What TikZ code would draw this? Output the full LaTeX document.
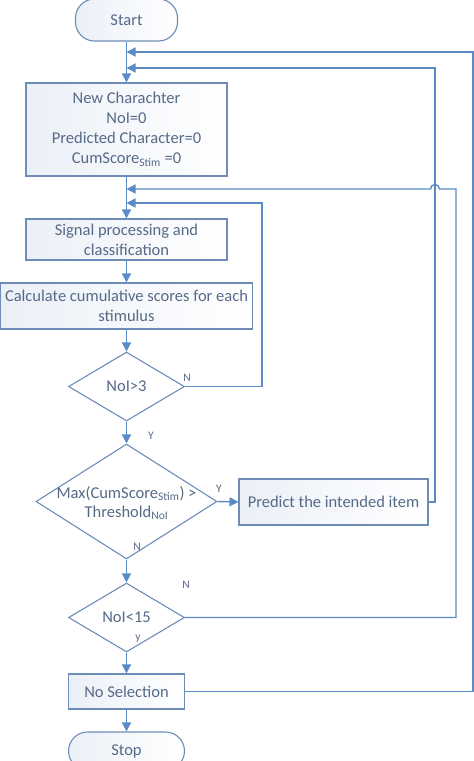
\documentclass[tikz,border=0pt]{standalone}
\usepackage{fontspec}
\setmainfont{Carlito}
\usetikzlibrary{arrows.meta,shapes.geometric}
\definecolor{lnc}{HTML}{5B8BC7}
\definecolor{bdc}{HTML}{6E8DB6}
\definecolor{txc}{HTML}{566A88}
\definecolor{flc}{HTML}{EBF0F7}
\begin{document}
\begin{tikzpicture}[x=1pt,y=-1pt,
  every node/.style={text=txc,font=\fontsize{16.5}{20}\selectfont},
  box/.style={draw=bdc,line width=1.1pt,left color=flc,right color=white,inner sep=0pt,align=center},
  term/.style={box,rounded corners=19pt},
  dia/.style={draw=bdc,line width=1.1pt,diamond,inner sep=0pt,fill=white},
  dtext/.style={align=center,inner sep=0pt},
  lbl/.style={font=\fontsize{11.5}{12}\selectfont,inner sep=0pt},
  conn/.style={draw=lnc,line width=1.4pt},
  arr/.style={conn,-{Triangle[length=9pt,width=9pt]}}]
\useasboundingbox (0,0) rectangle (474,761);

\node[term,minimum width=102,minimum height=42] (start) at (126.5,20) {Start};
\node[box,minimum width=201,minimum height=93] (new) at (126.5,129.5)
  {New Charachter\\NoI=0\\Predicted Character=0\\CumScore\textsubscript{Stim} =0};
\node[box,minimum width=201,minimum height=41] (sig) at (126.5,239.5)
  {Signal processing and\\classification};
\node[box,minimum width=252,minimum height=46] (calc) at (126.5,306)
  {Calculate cumulative scores for each\\stimulus};
\node[dia,minimum width=116,minimum height=69] (d1) at (126.5,386.5) {};
\node[dtext] at (d1) {NoI>3};
\node[dia,minimum width=181,minimum height=115] (d2) at (126.5,501.5) {};
\node[dtext,font=\fontsize{16.5}{19}\selectfont] at (126.5,503) {Max(CumScore\textsubscript{Stim}) >\\Threshold\textsubscript{NoI}};
\node[box,minimum width=189,minimum height=46] (pred) at (333.5,502) {Predict the intended item};
\node[dia,minimum width=116,minimum height=69] (d3) at (126.5,617.5) {};
\node[dtext] at (d3) {NoI<15};
\node[box,minimum width=116,minimum height=35] (nosel) at (126.5,691.5) {No Selection};
\node[term,minimum width=116,minimum height=38] (stop) at (126.5,751) {Stop};

\coordinate (j1) at (126.5,52);
\coordinate (j2) at (126.5,68);
\coordinate (j3) at (126.5,189);
\coordinate (j4) at (126.5,203);

\draw[arr] (start) -- (new);
\draw[arr] (new) -- (sig);
\draw[arr] (sig) -- (calc);
\draw[arr] (calc) -- (d1);
\draw[arr] (d1) -- (d2);
\draw[arr] (d2) -- (d3);
\draw[arr] (d3) -- (nosel);
\draw[arr] (nosel) -- (stop);
\draw[arr] (d2.east) -- (pred.west);

\draw[arr] (nosel.east) -- (473,691.5) -- (473,52) -- (j1);
\draw[arr] (pred.east) -- (435,502) -- (435,68) -- (j2);
\draw[arr] (d3.east) -- (456,617.5) -- (456,189) -- (439.5,189) arc[start angle=0,end angle=-180,radius=4.5] -- (j3);
\draw[arr] (d1.east) -- (262,386.5) -- (262,203) -- (j4);

\node[lbl] at (187,378) {N};
\node[lbl] at (151,436) {Y};
\node[lbl] at (219,489) {Y};
\node[lbl] at (137,547) {N};
\node[lbl] at (186,585) {N};
\node[lbl] at (138,639) {y};
\end{tikzpicture}
\end{document}
